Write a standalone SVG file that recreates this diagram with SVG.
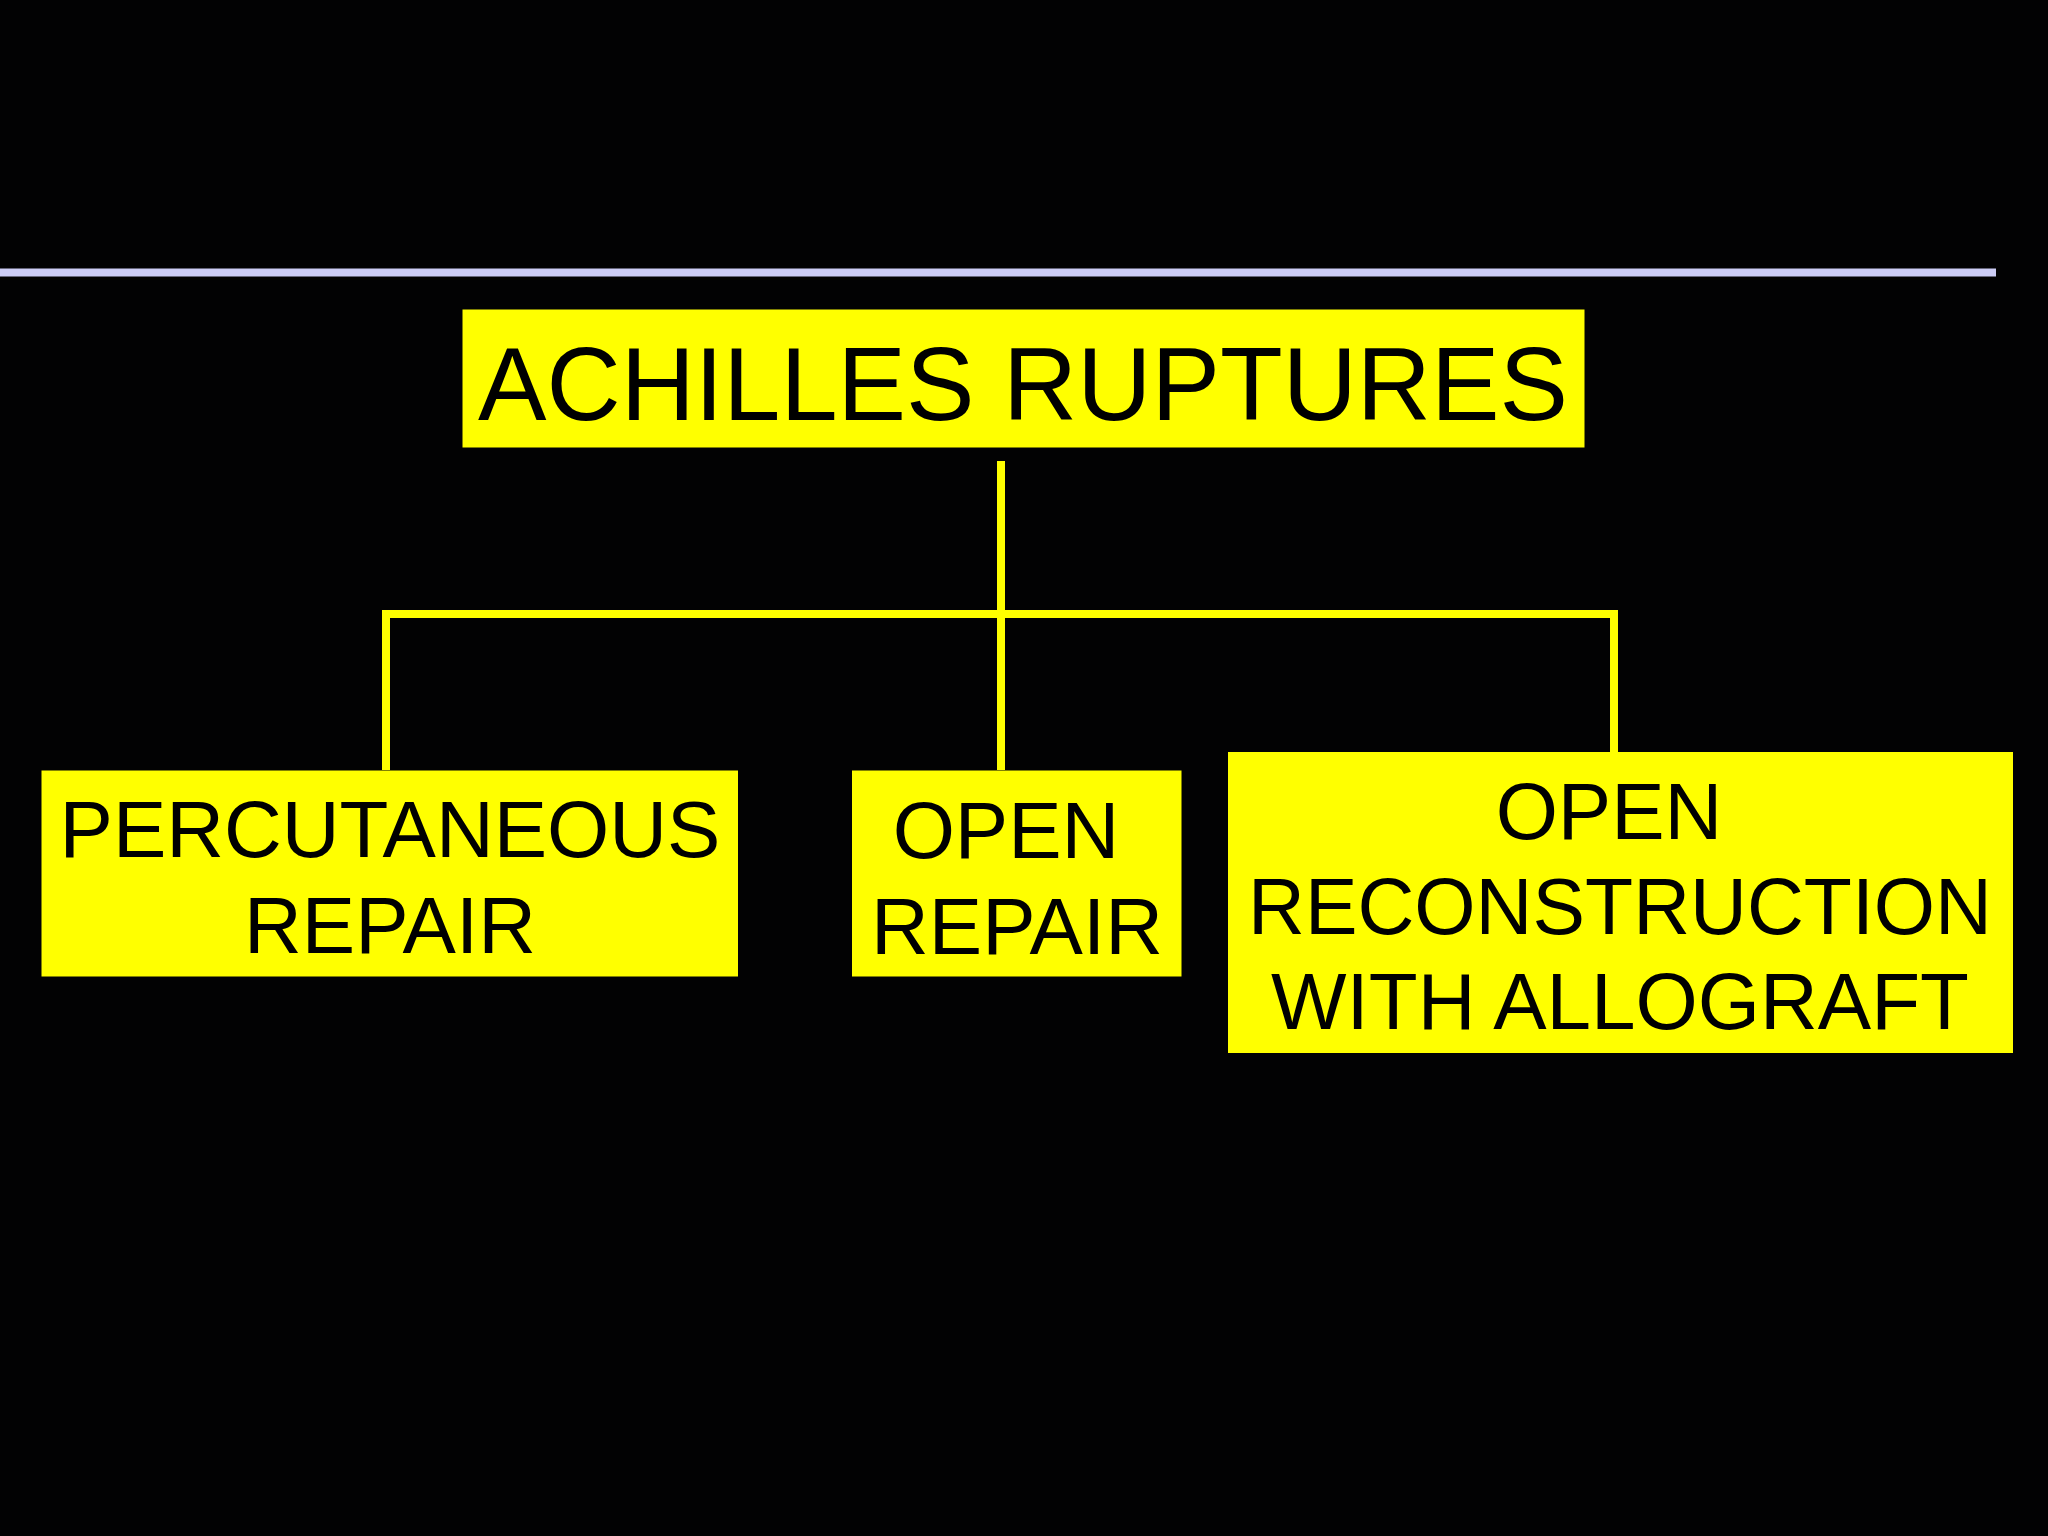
<svg xmlns="http://www.w3.org/2000/svg" width="2048" height="1536" viewBox="0 0 2048 1536">
<style>
.box{fill:#ffff00}
.lbl{font-family:"Liberation Sans",Arial,sans-serif;fill:#000000;text-anchor:middle}
.conn{stroke:#ffff00;stroke-width:8;fill:none}
</style>
<rect x="0" y="0" width="2048" height="1536" fill="#020203"/>
<rect x="0" y="268.5" width="1996" height="8" fill="#ccccf5"/>
<g id="connectors">
<line class="conn" x1="1001" y1="461" x2="1001" y2="770"/>
<polyline class="conn" points="386,770 386,614 1614,614 1614,752"/>
</g>
<g id="node-root">
<rect class="box" x="462.5" y="309.5" width="1122" height="138"/>
<text class="lbl" x="1023" y="420" font-size="103" textLength="1090" lengthAdjust="spacingAndGlyphs">ACHILLES RUPTURES</text>
</g>
<g id="node-percutaneous">
<rect class="box" x="41.5" y="770.5" width="696.5" height="206"/>
<text class="lbl" x="390" y="857" font-size="80">PERCUTANEOUS</text>
<text class="lbl" x="390" y="953" font-size="80">REPAIR</text>
</g>
<g id="node-open-repair">
<rect class="box" x="852" y="770.5" width="329.5" height="206"/>
<text class="lbl" x="1006" y="857.5" font-size="80">OPEN</text>
<text class="lbl" x="1017" y="953.5" font-size="80">REPAIR</text>
</g>
<g id="node-reconstruction">
<rect class="box" x="1228" y="752" width="785" height="301"/>
<text class="lbl" x="1609" y="838.5" font-size="80">OPEN</text>
<text class="lbl" x="1620" y="934" font-size="80" textLength="744" lengthAdjust="spacingAndGlyphs">RECONSTRUCTION</text>
<text class="lbl" x="1620" y="1029" font-size="80">WITH ALLOGRAFT</text>
</g>
</svg>
